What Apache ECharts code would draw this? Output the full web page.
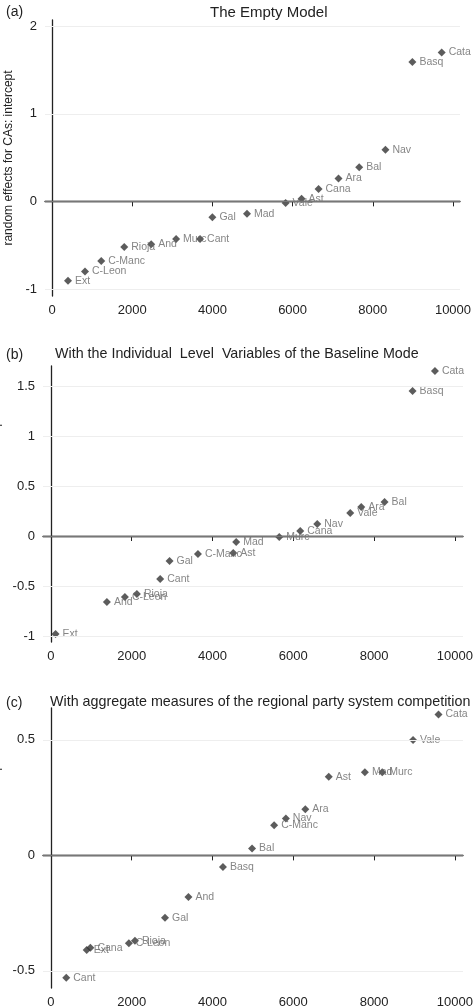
<!DOCTYPE html>
<html><head><meta charset="utf-8">
<script src="https://cdn.jsdelivr.net/npm/echarts@6/dist/echarts.min.js"></script>
<style>html,body{margin:0;padding:0;background:#fff}#c{width:474px;height:1008px}</style>
</head><body><div id="c"></div>
<script>
const namesA = ['Ext','C-Leon','C-Manc','Rioja','And','Murc','Cant','Gal','Mad','Vale','Ast','Cana','Ara','Bal','Nav','Basq','Cata'];
const xA = [398,822,1228,1801,2473,3095,3693,4000,4863,5826,6224,6647,7145,7660,8315,8988,9718];
const yA = [-0.905,-0.80,-0.68,-0.52,-0.49,-0.43,-0.43,-0.18,-0.14,-0.02,0.03,0.14,0.26,0.39,0.59,1.59,1.70];
const namesB = ['Ext','And','C-Leon','Rioja','Cant','Gal','C-Manc','Ast','Mad','Murc','Cana','Nav','Vale','Ara','Bal','Basq','Cata'];
const xB = [116,1386,1832,2129,2706,2937,3639,4513,4587,5652,6172,6592,7409,7681,8259,8952,9505];
const yB = [-0.98,-0.66,-0.61,-0.58,-0.43,-0.25,-0.18,-0.17,-0.06,-0.01,0.05,0.12,0.23,0.29,0.34,1.45,1.65];
const namesC = ['Cant','Ext','Cana','C-Leon','Rioja','Gal','And','Basq','Bal','C-Manc','Nav','Ara','Ast','Mad','Murc','Vale','Cata'];
const xC = [381,887,978,1930,2080,2825,3405,4259,4979,5526,5816,6297,6877,7772,8202,8964,9594];
const yC = [-0.53,-0.41,-0.40,-0.38,-0.37,-0.27,-0.18,-0.05,0.03,0.13,0.16,0.20,0.34,0.36,0.36,0.50,0.61];
const xTicks = [0,2000,4000,6000,8000,10000];
const yTicksA = [-1,0,1,2];
const yTicksB = [-1,-0.5,0,0.5,1,1.5];
const yTicksC = [-0.5,0,0.5];
const titles = ['The Empty Model','With the Individual  Level  Variables of the Baseline Mode','With aggregate measures of the regional party system competition'];
const panelLabels = ['(a)','(b)','(c)'];

const grids = [
  {left:45,width:415,top:20,height:276},
  {left:43,width:420,top:366,height:276},
  {left:43,width:420,top:708,height:280}
];
const yRanges = [[-1.08,2.07],[-1.06,1.70],[-0.574,0.638]];
const yTicks = [yTicksA,yTicksB,yTicksC];
const xMin = [-175,-195,-195];
const xMax = [10175,10200,10200];
const data = [[namesA,xA,yA],[namesB,xB,yB],[namesC,xC,yC]];
const titleTops = [0,342,690];
const titleLefts = [205,50,45];
const titleSizes = [15,14.3,14.3];

const opt = {animation:false, backgroundColor:'#fff', textStyle:{fontFamily:'Liberation Sans, Arial'},
  title:[], grid:[], xAxis:[], yAxis:[], series:[]};
for (let i=0;i<3;i++){
  opt.title.push({text:titles[i], left:titleLefts[i], top:titleTops[i], textStyle:{fontSize:titleSizes[i],fontWeight:'normal',color:'#222'}});
  opt.title.push({text:panelLabels[i], left:1, top:titleTops[i]+(i===0?0:1), textStyle:{fontSize:14,fontWeight:'normal',color:'#222'}});
  opt.grid.push(Object.assign({containLabel:false,outerBoundsMode:'none'},grids[i]));
  opt.xAxis.push({type:'value',gridIndex:i,min:xMin[i],max:xMax[i],
    axisLine:{show:true,lineStyle:{color:'#222',width:1.3}},
    axisTick:{show:true,length:5,lineStyle:{color:'#222'},customValues:xTicks},
    axisLabel:{color:'#222',fontSize:13,customValues:xTicks,formatter:v=>String(v),hideOverlap:false},
    splitLine:{show:false}});
  opt.yAxis.push({type:'value',gridIndex:i,min:yRanges[i][0],max:yRanges[i][1],
    name:'random effects for CAs: intercept',nameLocation:'middle',nameGap:30,
    nameTextStyle:{fontSize:12,color:'#222'},
    axisLine:{show:true,lineStyle:{color:'#222',width:1.3}},
    axisTick:{show:true,length:5,lineStyle:{color:'#222'},customValues:yTicks[i]},
    axisLabel:{color:'#222',fontSize:13,customValues:yTicks[i],formatter:v=>String(v)},
    splitLine:{show:false}});
  const [nm,xs,ys]=data[i];
  opt.series.push({type:'scatter',xAxisIndex:i,yAxisIndex:i,symbol:'diamond',symbolSize:8,
    itemStyle:{color:'#333'},
    label:{show:true,position:'right',distance:3,formatter:p=>p.data[2],fontSize:10.5,color:'#666'},
    labelLayout:{hideOverlap:false},
    data:xs.map((x,k)=>[x,ys[k],nm[k]]),
    markLine:{silent:true,symbol:'none',label:{show:false},
      data:yTicks[i].map(v=>({yAxis:v,lineStyle:{color:v===0?'#777':'#eee',width:v===0?1.3:1,type:'solid'}}))}
  });
}
echarts.init(document.getElementById('c')).setOption(opt);
</script></body></html>
